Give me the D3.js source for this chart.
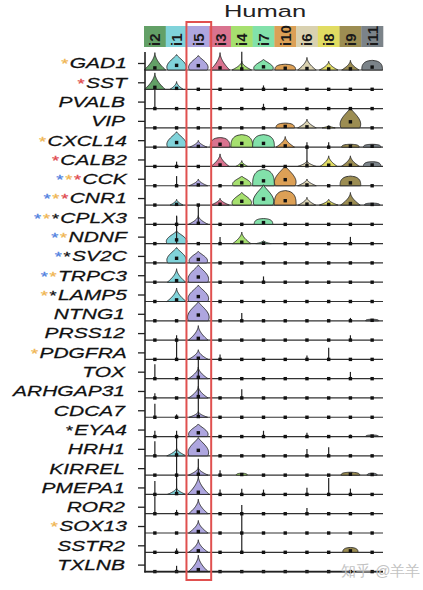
<!DOCTYPE html>
<html>
<head>
<meta charset="utf-8">
<script src="https://cdn.jsdelivr.net/npm/d3@7"></script>
<style>
body { margin: 0; background: #fff; }
text { font-family: "Liberation Sans", Arial, sans-serif; }
</style>
</head>
<body>
<svg></svg>
<script>
const width = 423
const height = 590

const clusters = ["i2", "i1", "i5", "i3", "i4", "i7", "i10", "i6", "i8", "i9", "i11"]
const clusterColors = ["#63a067", "#80d3da", "#aea6df", "#d9738f", "#a6e06f", "#82e1aa",
    "#dca056", "#d9d1b0", "#e1dc62", "#9c8d52", "#7b8389"]

const genes = ["GAD1", "SST", "PVALB", "VIP", "CXCL14", "CALB2", "CCK", "CNR1", "CPLX3",
    "NDNF", "SV2C", "TRPC3", "LAMP5", "NTNG1", "PRSS12", "PDGFRA", "TOX", "ARHGAP31",
    "CDCA7", "EYA4", "HRH1", "KIRREL", "PMEPA1", "ROR2", "SOX13", "SSTR2", "TXLNB"]

// o = orange, r = red, b = blue, k = black
const geneStars = ["o", "r", "", "", "o", "r", "bor", "bor", "bok", "bo", "bk", "bo", "ok",
    "", "", "o", "", "", "", "k", "", "", "", "", "o", "", ""]
const starColors = { o: "#f0b550", r: "#e0474c", b: "#4f7fe0", k: "#111" }

// one entry per cluster: 0 = only the dot, ["t", spike], [shape, height, halfWidth, spike]
// heights in row units, widths as share of half a column
const violinRows = [
    [["p", .9, 1], ["o", .8, .9], ["o", .75, .9], ["p", .9, .9], ["p", .45, .9, .95], ["o", .55, .9], ["r", .3, .95], ["p", .65, .85], ["p", .45, .85], ["p", .5, .8], ["r", .5, .95]],
    [["p", .85, .95], ["p", .4, .6], 0, 0, 0, ["t", .2], 0, 0, 0, 0, 0],
    [["t", 1.0], 0, 0, 0, 0, ["t", .25], 0, 0, 0, 0, 0],
    [0, 0, 0, 0, 0, 0, ["r", .25, .85], ["p", .45, .85], ["p", .12, .6], ["o", 1.05, .95], 0],
    [0, ["o", .8, .9], ["p", .35, .8], ["r", .5, .9], ["r", .65, 1], ["r", .65, 1], ["p", .55, .85], ["t", .25], ["t", .25], ["r", .15, .8], ["r", .15, .8]],
    [0, ["t", .25], 0, ["p", .65, .85], ["p", .3, .55], 0, 0, ["p", .3, .85, 1.1], ["p", .55, .8], ["p", .55, .85], ["r", .25, .8]],
    [0, ["t", .5], ["p", .35, .85], 0, ["o", .5, .85], ["r", .85, 1], ["o", 1.05, 1], ["p", .35, .85], 0, ["r", .5, .95], 0],
    [0, ["p", .3, .6], 0, ["p", .35, .85], ["o", .65, .9], ["o", 1.05, .95], ["r", .75, 1], ["p", .4, .8], ["p", .3, .85], ["p", .65, .9], ["r", .1, .7]],
    [0, ["t", .45], ["p", .45, .9, 1.05], 0, 0, ["r", .3, .85], 0, 0, 0, 0, 0],
    [0, ["o", .65, .95, 1.4], 0, ["t", .35], ["p", .6, .85], ["p", .15, .7], 0, 0, 0, ["t", .35], 0],
    [0, ["o", .8, .9], ["o", .6, .85], 0, 0, 0, 0, 0, 0, 0, 0],
    [0, ["p", .7, .85], ["o", .9, .95], 0, 0, ["t", .3], 0, 0, 0, 0, 0],
    [0, ["p", .7, .9], ["o", .85, .95], 0, 0, 0, 0, 0, 0, 0, 0],
    [0, 0, ["o", 1.0, 1], 0, ["t", .4], 0, 0, 0, 0, ["t", .15], ["r", .08, .6]],
    [0, 0, ["p", .75, .9], 0, 0, 0, 0, 0, 0, ["t", .25], 0],
    [0, ["t", 1.25], ["p", .5, .9], ["t", .25], 0, 0, 0, ["t", .2], ["t", .6], 0, 0],
    [["t", .75], 0, ["p", .6, .9, 1.0], 0, 0, 0, 0, 0, 0, ["t", .35], 0],
    [["t", .25], 0, ["p", .6, .9, 1.0], 0, ["t", .45], 0, 0, 0, 0, 0, 0],
    [["t", .7], ["t", .15], ["p", .3, .85, 1.1], 0, 0, 0, 0, 0, 0, 0, 0],
    [["t", .3], ["t", .3], ["o", .65, .9], 0, 0, ["t", .3], 0, ["t", .2], 0, ["t", .1], ["r", .08, .6]],
    [["t", .75], ["p", .4, .9, 1.1], ["o", .95, .95], 0, 0, 0, 0, ["t", .35], ["t", .45], 0, 0],
    [0, ["t", 1.0], ["p", .4, .9, .85], ["t", .25], ["r", .1, .5], 0, 0, 0, 0, ["r", .15, .85], ["r", .1, .45]],
    [["t", .7], ["p", .35, .85, 1.0], ["p", .95, 1], ["t", .25], ["t", .3], ["t", .25], 0, ["t", .35], ["t", .85], ["t", .3], 0],
    [["t", .9], ["t", .2], ["p", .75, .9], 0, 0, 0, 0, ["t", .3], 0, 0, 0],
    [0, 0, ["p", .65, .9], 0, 0, 0, 0, 0, 0, 0, 0],
    [0, ["t", .2], ["p", .65, .9], 0, ["t", 2.45], 0, 0, 0, 0, ["r", .25, .7], 0],
    [0, ["t", .3], ["p", .85, .9], 0, 0, 0, 0, 0, 0, 0, 0]
]

const svg = d3.select("svg")
    .attr("width", width)
    .attr("height", height)

const x = d3.scaleBand().domain(clusters).range([144, 383])
const yTick = d3.scalePoint().domain(genes).range([63, 564.6])
const base = g => yTick(g) + 7
const vh = d3.scaleLinear().domain([0, 1]).range([0, 19.3])
const vw = d3.scaleLinear().domain([0, 1]).range([0, x.bandwidth() / 2])
const color = d3.scaleOrdinal().domain(clusters).range(clusterColors)

// violin profiles, t = 0 at baseline, 1 at the top
const profiles = {
    p: t => Math.pow(1 - t, 1.8),
    o: t => Math.pow(1 - t, 1.4) * (1 + 2.5 * t) / 1.1,
    r: t => Math.sqrt(1 - Math.pow(t, 3))
}
const dotLevel = { p: 0.12, o: 0.3, r: 0.3, t: 0 }

const cells = []
genes.forEach((g, i) => {
    clusters.forEach((c, j) => {
        const v = violinRows[i][j]
        cells.push({
            gene: g, cluster: c,
            shape: v ? v[0] : "t",
            h: v ? (v[0] == "t" ? 0 : v[1]) : 0,
            w: v && v[0] != "t" ? v[2] : 0,
            spike: v ? (v[0] == "t" ? v[1] : (v[3] || 0)) : 0
        })
    })
})

// title
svg.append("text")
    .attr("transform", `translate(265, 17) scale(1.5, 1)`)
    .attr("text-anchor", "middle")
    .attr("font-size", "17px")
    .attr("fill", "#222")
    .text("Human")

// header strip
const header = svg.append("g")
header.selectAll("rect")
    .data(clusters)
    .join("rect")
    .attr("x", d => x(d))
    .attr("y", 26)
    .attr("width", x.bandwidth() + 0.3)
    .attr("height", 21)
    .attr("fill", d => color(d))

header.selectAll("text")
    .data(clusters)
    .join("text")
    .attr("transform", d => `translate(${x(d) + x.bandwidth() / 2 + 5.5}, 46) rotate(-90)`)
    .attr("font-size", "15px")
    .attr("font-weight", "bold")
    .attr("fill", "#1a1a1a")
    .text(d => d)

// row baselines
const plot = svg.append("g")
plot.selectAll("line.row")
    .data(genes)
    .join("line")
    .attr("class", "row")
    .attr("x1", 145)
    .attr("x2", 383)
    .attr("y1", d => base(d))
    .attr("y2", d => base(d))
    .attr("stroke", "#333")
    .attr("stroke-width", 1.2)

// violins
const violinArea = d => d3.area()
    .curve(d3.curveBasis)
    .y(t => base(d.gene) - vh(d.h) * t)
    .x0(t => x(d.cluster) + x.bandwidth() / 2 - vw(d.w) * profiles[d.shape](t))
    .x1(t => x(d.cluster) + x.bandwidth() / 2 + vw(d.w) * profiles[d.shape](t))
    (d3.range(0, 1.0001, 0.05))

plot.selectAll("path.violin")
    .data(cells.filter(d => d.shape != "t"))
    .join("path")
    .attr("class", "violin")
    .attr("d", violinArea)
    .attr("fill", d => color(d.cluster))
    .attr("stroke", "#2a2a2a")
    .attr("stroke-width", 0.9)

// thin spikes
plot.selectAll("line.spike")
    .data(cells.filter(d => d.spike > 0))
    .join("line")
    .attr("class", "spike")
    .attr("x1", d => x(d.cluster) + x.bandwidth() / 2)
    .attr("x2", d => x(d.cluster) + x.bandwidth() / 2)
    .attr("y1", d => base(d.gene))
    .attr("y2", d => base(d.gene) - vh(d.spike))
    .attr("stroke", "#222")
    .attr("stroke-width", 1.2)

// median dots
plot.selectAll("rect.dot")
    .data(cells)
    .join("rect")
    .attr("class", "dot")
    .attr("x", d => x(d.cluster) + x.bandwidth() / 2 - 1.7)
    .attr("y", d => base(d.gene) - vh(d.h) * dotLevel[d.shape] - 1.7)
    .attr("width", 3.4)
    .attr("height", 3.4)
    .attr("fill", "#111")

// y axis
const yAxis = svg.append("g")
    .attr("transform", "translate(145, 0)")
    .call(d3.axisLeft(yTick).tickSize(7).tickFormat(""))
yAxis.select(".domain").remove()
yAxis.selectAll(".tick line").attr("stroke", "#222").attr("stroke-width", 1.3)

svg.append("line")
    .attr("x1", 145).attr("x2", 145)
    .attr("y1", 52).attr("y2", 572.5)
    .attr("stroke", "#222").attr("stroke-width", 1.6)
svg.append("line")
    .attr("x1", 144.2).attr("x2", 383)
    .attr("y1", base("TXLNB")).attr("y2", base("TXLNB"))
    .attr("stroke", "#222").attr("stroke-width", 1.8)

// gene labels with stars
const labels = svg.append("g")
    .selectAll("text")
    .data(genes)
    .join("text")
    .attr("transform", d => `translate(125, ${yTick(d)}) scale(1.4, 1)`)
    .attr("text-anchor", "end")
    .attr("dy", "0.36em")
    .attr("font-size", "15px")
    .attr("font-style", "italic")
    .attr("fill", "#111")
    .attr("stroke", "#111")
    .attr("stroke-width", 0.25)

labels.each(function(d, i) {
    const t = d3.select(this)
    geneStars[i].split("").forEach(s => {
        t.append("tspan")
            .attr("dx", 1.3)
            .attr("font-size", "13px")
            .attr("fill", starColors[s])
            .attr("stroke", starColors[s])
            .text("*")
    })
    t.append("tspan").attr("dx", geneStars[i] ? 1.5 : 0).text(d)
})

// highlighted cluster
svg.append("rect")
    .attr("x", x("i5") - 1)
    .attr("y", 22)
    .attr("width", x.bandwidth() + 3)
    .attr("height", 558)
    .attr("fill", "none")
    .attr("stroke", "#e0504f")
    .attr("stroke-width", 2)

// watermark
svg.append("text")
    .attr("x", 341)
    .attr("y", 576)
    .attr("font-family", "'Noto Sans CJK SC', sans-serif")
    .attr("font-size", "15px")
    .attr("fill", "#c3c3c3")
    .text("知乎 @羊羊")
</script>
</body>
</html>
